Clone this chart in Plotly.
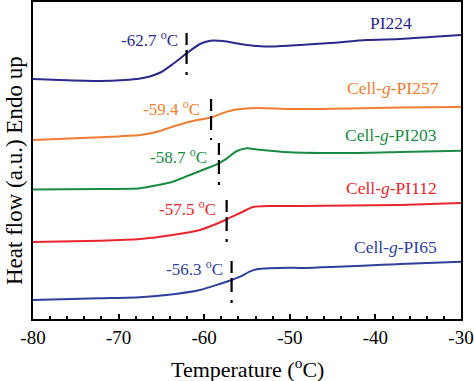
import plotly.graph_objects as go

# ---- data ----
names = ["PI224", "Cell-<i>g</i>-PI257", "Cell-<i>g</i>-PI203", "Cell-<i>g</i>-PI112", "Cell-<i>g</i>-PI65"]
tg_labels = ["-62.7", "-59.4", "-58.7", "-57.5", "-56.3"]

t_pi224 = [-80.0, -76.9, -72.2, -69.3, -67.5, -66.35, -65.0, -63.66, -62.0, -60.5, -59.3, -57.8, -55.8, -53.85, -51.7, -48.8, -45.3, -41.0, -37.1, -33.6, -30.0]
y_pi224 = [240, 239, 238, 239, 240.5, 242.5, 247, 255, 266, 275, 278.3, 278, 275, 273, 272.5, 274, 276, 279, 280, 282, 284]

t_pi257 = [-80.0, -72.2, -67.5, -65.5, -63.7, -61.7, -60.5, -59.2, -57.8, -56.6, -53.8, -50.0, -43.0, -37.1, -30.0]
y_pi257 = [179, 181.7, 184, 187.3, 192.3, 197.3, 199.5, 201.5, 206, 209, 211, 210, 210.5, 211.5, 212]

t_pi203 = [-80.0, -72.2, -67.5, -63.66, -61.67, -59.68, -58.28, -57.34, -56.17, -55.0, -53.84, -50.0, -43.0, -37.1, -30.0]
y_pi203 = [129.5, 130, 130.7, 137.3, 144, 150.7, 155.7, 160.7, 168, 170.7, 169.5, 166.7, 166, 167, 168.3]

t_pi112 = [-80.0, -72.2, -67.5, -63.7, -60.5, -58.75, -57.4, -55.8, -54.3, -52.3, -48.8, -43.0, -37.1, -30.0]
y_pi112 = [77, 78.3, 80, 84, 89, 94.5, 99.5, 106, 112, 113, 113, 113.5, 114, 116]

t_pi65 = [-80.0, -72.2, -67.5, -64.4, -60.5, -58.2, -56.8, -55.8, -54.7, -53.85, -50.0, -48.8, -37.1, -30.0]
y_pi65 = [19, 20.7, 21.7, 24, 29, 35, 39, 42.3, 47.3, 49.7, 51.3, 51, 55, 57.3]

vline_t = [-62.06, -59.2, -58.28, -57.38, -56.8]
vline_y0 = [244, 179, 133, 77, 16]
vline_y1 = [286, 220, 176, 119, 58]

x_ticks = [-80, -70, -60, -50, -40, -30]

# ---- styles / layout constants ----
colors = ["#2b2a8c", "#f07d32", "#1a8a45", "#e8262d", "#2e3f9c"]
curves = [(t_pi224, y_pi224), (t_pi257, y_pi257), (t_pi203, y_pi203), (t_pi112, y_pi112), (t_pi65, y_pi65)]
name_pos = [(-35.47, 296), (-32.32, 231), (-32.55, 184), (-32.55, 131.3), (-32.55, 72)]
tg_pos = [(-62.84, 280), (-60.27, 211), (-59.45, 163), (-58.4, 111), (-57.58, 51)]
FONT = "Liberation Serif, Times New Roman, serif"

fig = go.Figure()
for (t, y), c in zip(curves, colors):
    fig.add_trace(go.Scatter(x=t, y=y, mode="lines", line=dict(color=c, width=2, shape="spline", smoothing=0.6),
                             showlegend=False, hoverinfo="skip"))
for t, a, b in zip(vline_t, vline_y0, vline_y1):
    fig.add_trace(go.Scatter(x=[t, t], y=[b, a], mode="lines",
                             line=dict(color="black", width=2.2, dash="12px,5px,14px,8px,3px,20px"),
                             showlegend=False, hoverinfo="skip"))

annotations = []
for n, (x, y), c in zip(names, name_pos, colors):
    annotations.append(dict(x=x, y=y, xref="x", yref="y", text=n, showarrow=False, xanchor="right",
                            yanchor="middle", font=dict(family=FONT, size=17.5, color=c)))
for lab, (x, y), c in zip(tg_labels, tg_pos, colors):
    annotations.append(dict(x=x, y=y, xref="x", yref="y", text=lab + " <sup>o</sup>C", showarrow=False,
                            xanchor="right", yanchor="middle", font=dict(family=FONT, size=17, color=c)))
# axis titles
annotations.append(dict(x=0.5, y=-0.1546, xref="paper", yref="paper", text="Temperature (<sup>o</sup>C)",
                        showarrow=False, xanchor="center", yanchor="middle",
                        font=dict(family=FONT, size=22, color="black")))
annotations.append(dict(x=-0.042, y=0.467, xref="paper", yref="paper", text="Heat flow (a.u.) Endo up",
                        showarrow=False, xanchor="center", yanchor="middle", textangle=-90,
                        font=dict(family=FONT, size=23, color="black")))

fig.update_layout(
    width=474, height=381,
    margin=dict(l=33, r=13, t=2, b=62, autoexpand=False),
    paper_bgcolor="white", plot_bgcolor="white",
    annotations=annotations,
    font=dict(family=FONT, color="black"),
)
fig.update_xaxes(range=[-80, -30], tickvals=x_ticks, ticktext=[str(v) for v in x_ticks],
                 ticks="inside", ticklen=5, tickwidth=1.5, tickcolor="black", automargin=False,
                 minor=dict(ticks="inside", dtick=2, ticklen=3, tickwidth=1.5, tickcolor="black", showgrid=False),
                 showline=True, linewidth=2, linecolor="black", mirror=True, showgrid=False, zeroline=False,
                 tickfont=dict(family=FONT, size=19, color="black"), ticklabelstandoff=0)
fig.update_yaxes(range=[0, 317], showticklabels=False, ticks="", showline=True, linewidth=2, linecolor="black",
                 mirror=True, showgrid=False, zeroline=False, automargin=False)

fig.write_html("out.html", config={"displayModeBar": False},
               post_script="document.body.style.margin='0';document.body.style.padding='0';")
